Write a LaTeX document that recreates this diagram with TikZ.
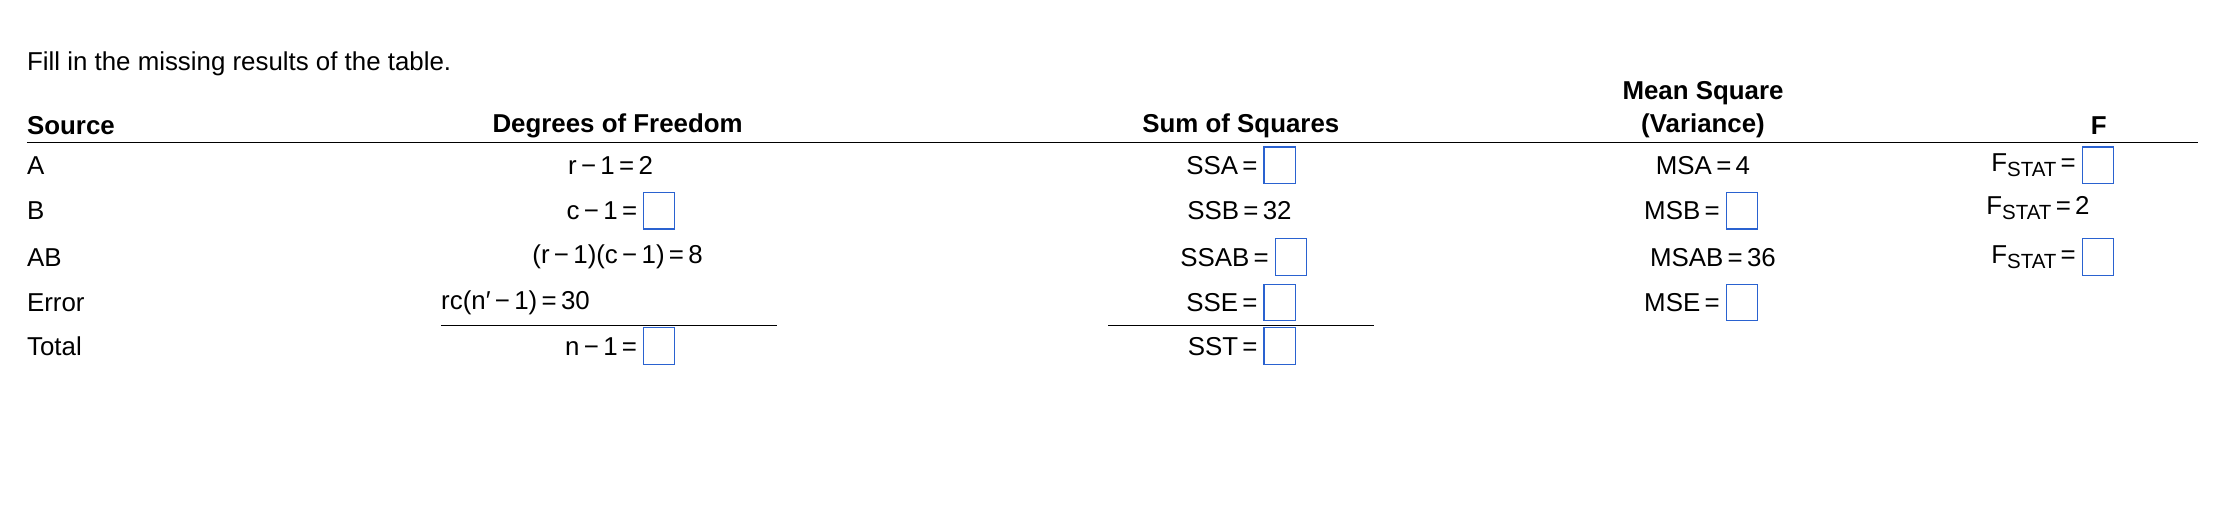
\documentclass[tikz,border=0pt]{standalone}
\usepackage{fontspec}
\setmainfont{Liberation Sans}
\definecolor{bxc}{HTML}{2A62D0}
\newcommand{\fstat}{F\raisebox{-3.5pt}{\fontsize{14.5}{15}\selectfont STAT}}
\begin{document}
\begin{tikzpicture}[x=1pt,y=-1pt,
  t/.style={inner sep=0pt,font=\fontsize{18.3}{20}\selectfont},
  h/.style={t,font=\fontsize{18.3}{20}\selectfont\bfseries},
  bx/.style={draw=bxc,line width=0.8pt,minimum width=22pt,minimum height=26pt,inner sep=0pt,anchor=west}]
\useasboundingbox (0,0) rectangle (1568,357);
\node[t,anchor=west] (title) at (19,45) {Fill in the missing results of the table.};
% headers
\node[h,anchor=west] (hs) at (19,89) {Source};
\node[h] (hd) at (437,89) {Degrees of Freedom};
\node[h] (hss) at (878,89) {Sum of Squares};
\node[h] (hm1) at (1205,66) {Mean Square};
\node[h] (hm2) at (1205,89) {(Variance)};
\node[h] (hf) at (1485,89) {F};
\draw[line width=0.8pt] (19,101) -- (1555,101);
% source
\node[t,anchor=west] (sA) at (19,117) {A};
\node[t,anchor=west] (sB) at (19,149) {B};
\node[t,anchor=west] (sAB) at (19,182) {AB};
\node[t,anchor=west] (sE) at (19,214) {Error};
\node[t,anchor=west] (sT) at (19,245) {Total};
% dof
\node[t] (d1) at (432,117) {r\,−\,1\,=\,2};
\node[bx] (db2) at (455,149) {};
\node[t,anchor=east] (d2) at (451,149) {c\,−\,1\,=};
\node[t] (d3) at (437,182) {(r\,−\,1)(c\,−\,1)\,=\,8};
\node[t,anchor=west] (d4) at (312,214) {rc(n′\,−\,1)\,=\,30};
\draw (312,230) -- (550,230);
\node[bx] (db5) at (455,245) {};
\node[t,anchor=east] (d5) at (451,245) {n\,−\,1\,=};
% SS
\node[bx] (sb1) at (894,117) {};
\node[t,anchor=east] (ss1) at (890,117) {SSA\,=};
\node[t] (ss2) at (877,149) {SSB\,=\,32};
\node[bx] (sb3) at (902,182) {};
\node[t,anchor=east] (ss3) at (898,182) {SSAB\,=};
\node[bx] (sb4) at (894,214) {};
\node[t,anchor=east] (ss4) at (890,214) {SSE\,=};
\draw (784,230) -- (972,230);
\node[bx] (sb5) at (894,245) {};
\node[t,anchor=east] (ss5) at (890,245) {SST\,=};
% MS
\node[t] (m1) at (1205,117) {MSA\,=\,4};
\node[bx] (mb2) at (1221,149) {};
\node[t,anchor=east] (m2) at (1217,149) {MSB\,=};
\node[t] (m3) at (1212,182) {MSAB\,=\,36};
\node[bx] (mb4) at (1221,214) {};
\node[t,anchor=east] (m4) at (1217,214) {MSE\,=};
% F
\node[bx] (fb1) at (1473,117) {};
\node[t,anchor=east] (f1) at (1469,117) {\fstat\,=};
\node[t] (f2) at (1442,147) {\fstat\,=\,2};
\node[bx] (fb3) at (1473,182) {};
\node[t,anchor=east] (f3) at (1469,182) {\fstat\,=};
\end{tikzpicture}
\end{document}
